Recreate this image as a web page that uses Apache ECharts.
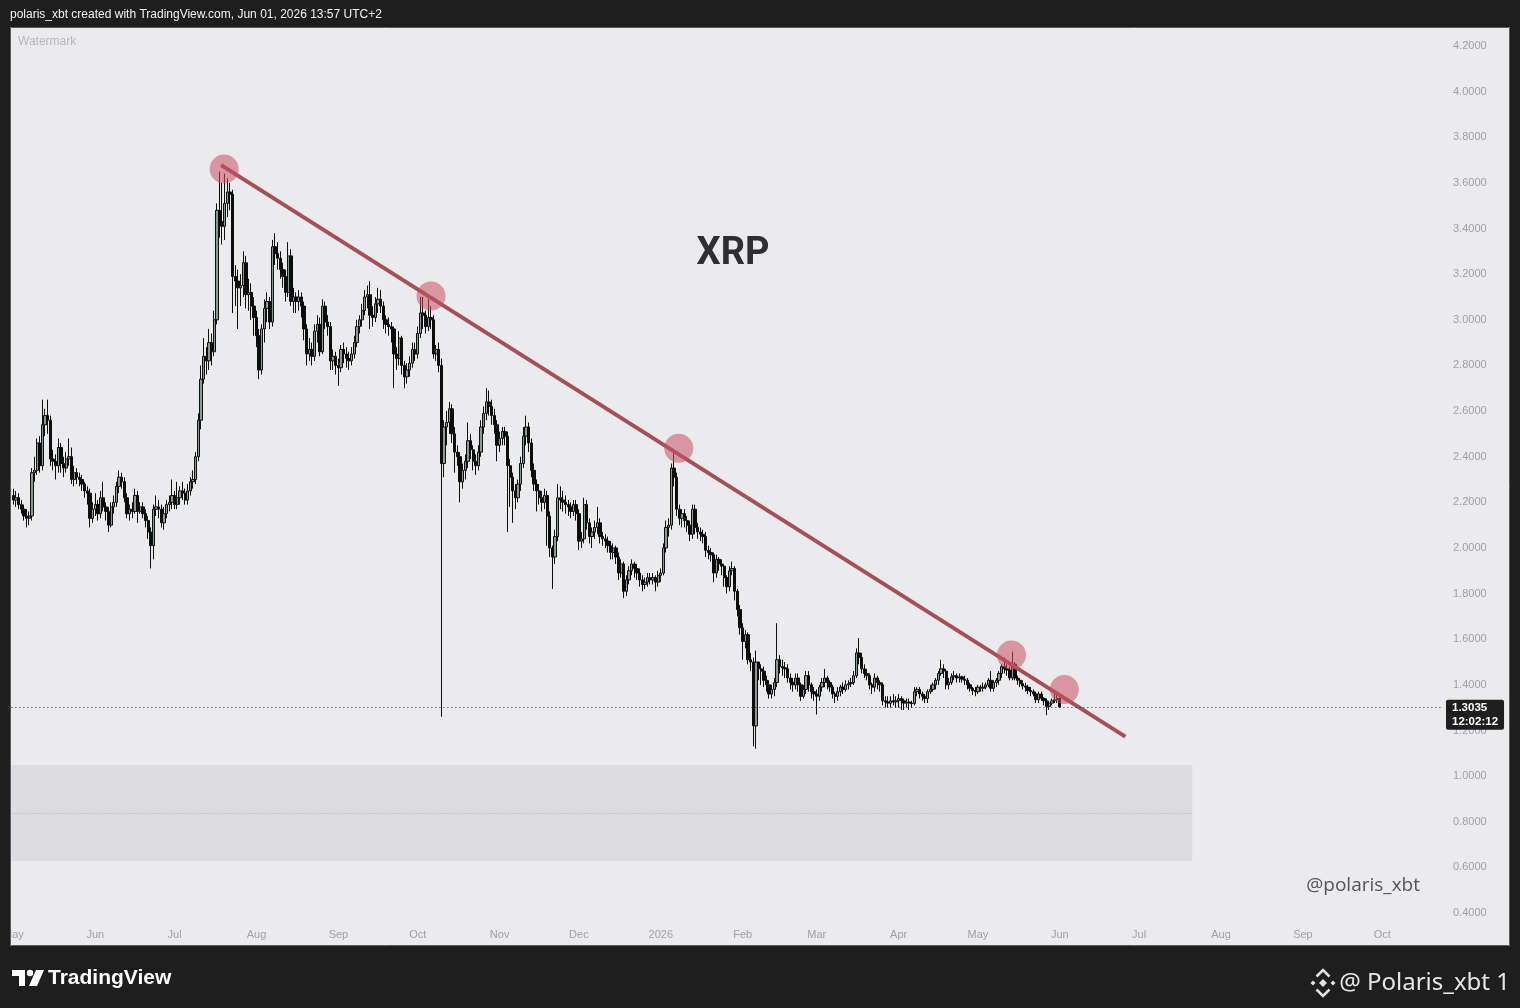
<!DOCTYPE html>
<html><head><meta charset="utf-8">
<script src="https://cdn.jsdelivr.net/npm/echarts@6/dist/echarts.min.js"></script>
<style>html,body{margin:0;padding:0;background:#1e1e1e;}#c{width:1520px;height:1008px;}</style>
</head><body><div id="c"></div>
<script>
// ---- data (daily XRP candles, 2025-05-01 .. 2026-06-01) ----
const firstDay = '2025-05-01T00:00:00Z';
const opens = [
2.23,2.21,2.22,2.19,2.17,2.14,2.13,2.14,2.33,2.34,
2.46,2.36,2.54,2.58,2.56,2.39,2.38,2.36,2.44,2.37,
2.35,2.39,2.40,2.30,2.33,2.31,2.30,2.28,2.25,2.24,
2.13,2.17,2.19,2.15,2.22,2.18,2.16,2.10,2.18,2.20,
2.27,2.31,2.29,2.22,2.15,2.17,2.16,2.23,2.16,2.18,
2.15,2.12,2.07,2.01,2.17,2.18,2.17,2.11,2.15,2.19,
2.20,2.23,2.19,2.22,2.25,2.24,2.21,2.25,2.29,2.30,
2.40,2.56,2.74,2.84,2.82,2.90,2.86,3.00,3.48,3.43,
3.41,3.51,3.56,3.55,3.19,3.17,3.14,3.15,3.25,3.11,
3.12,3.06,3.01,2.93,2.78,2.96,3.05,3.08,2.99,3.32,
3.29,3.27,3.22,3.19,3.12,3.28,3.08,3.10,3.08,3.10,
3.06,2.96,2.85,2.87,2.84,2.95,2.98,2.86,3.06,2.99,
2.97,2.82,2.84,2.80,2.79,2.87,2.85,2.83,2.82,2.85,
2.90,2.97,3.00,3.04,3.10,3.11,3.02,3.01,3.07,3.09,
3.06,3.00,2.98,2.97,2.96,2.85,2.83,2.92,2.80,2.75,
2.78,2.81,2.87,2.85,2.94,3.03,3.02,2.97,3.01,3.00,
2.85,2.87,2.80,2.37,2.53,2.55,2.61,2.50,2.42,2.40,
2.29,2.34,2.38,2.47,2.43,2.38,2.36,2.42,2.53,2.59,
2.64,2.62,2.58,2.54,2.45,2.48,2.51,2.49,2.36,2.31,
2.25,2.22,2.28,2.37,2.49,2.53,2.46,2.34,2.28,2.25,
2.22,2.20,2.23,2.14,2.00,1.96,2.05,2.22,2.21,2.20,
2.19,2.18,2.16,2.19,2.15,2.03,2.04,2.19,2.11,2.05,
2.07,2.09,2.11,2.05,2.04,2.03,2.01,1.98,2.00,1.96,
1.89,1.93,1.81,1.86,1.90,1.93,1.91,1.89,1.86,1.84,
1.85,1.87,1.86,1.87,1.85,1.88,1.89,2.00,2.09,2.10,
2.35,2.31,2.17,2.13,2.15,2.12,2.10,2.06,2.17,2.09,
2.07,2.06,2.05,1.99,1.98,1.97,1.89,1.95,1.93,1.92,
1.87,1.83,1.90,1.91,1.81,1.73,1.65,1.59,1.62,1.51,
1.50,1.22,1.50,1.47,1.46,1.42,1.40,1.36,1.38,1.41,
1.51,1.48,1.475,1.47,1.43,1.41,1.40,1.43,1.40,1.35,
1.38,1.44,1.40,1.37,1.36,1.35,1.39,1.41,1.43,1.41,
1.39,1.36,1.35,1.37,1.39,1.38,1.40,1.405,1.41,1.44,
1.54,1.52,1.47,1.45,1.44,1.40,1.39,1.43,1.41,1.40,
1.33,1.325,1.32,1.33,1.325,1.33,1.34,1.33,1.32,1.325,
1.32,1.318,1.37,1.38,1.36,1.35,1.34,1.37,1.38,1.40,
1.42,1.45,1.47,1.46,1.40,1.41,1.435,1.44,1.43,1.435,
1.425,1.42,1.40,1.385,1.375,1.37,1.39,1.385,1.39,1.40,
1.42,1.385,1.41,1.42,1.45,1.48,1.47,1.465,1.43,1.49,
1.43,1.42,1.405,1.395,1.39,1.375,1.37,1.36,1.335,1.36,
1.34,1.33,1.305,1.32,1.33,1.335,1.34];
const closes = [
2.21,2.22,2.19,2.17,2.14,2.13,2.14,2.33,2.34,2.46,
2.36,2.54,2.58,2.56,2.39,2.38,2.36,2.44,2.37,2.35,
2.39,2.40,2.30,2.33,2.31,2.30,2.28,2.25,2.24,2.13,
2.17,2.19,2.15,2.22,2.18,2.16,2.10,2.18,2.20,2.27,
2.31,2.29,2.22,2.15,2.17,2.16,2.23,2.16,2.18,2.15,
2.12,2.07,2.01,2.17,2.18,2.17,2.11,2.15,2.19,2.20,
2.23,2.19,2.22,2.25,2.24,2.21,2.25,2.29,2.30,2.40,
2.56,2.74,2.84,2.82,2.90,2.86,3.00,3.48,3.43,3.41,
3.51,3.56,3.55,3.19,3.17,3.14,3.15,3.25,3.11,3.12,
3.06,3.01,2.93,2.78,2.96,3.05,3.08,2.99,3.32,3.29,
3.27,3.22,3.19,3.12,3.28,3.08,3.10,3.08,3.10,3.06,
2.96,2.85,2.87,2.84,2.95,2.98,2.86,3.06,2.99,2.97,
2.82,2.84,2.80,2.79,2.87,2.85,2.83,2.82,2.85,2.90,
2.97,3.00,3.04,3.10,3.11,3.02,3.01,3.07,3.09,3.06,
3.00,2.98,2.97,2.96,2.85,2.83,2.92,2.80,2.75,2.78,
2.81,2.87,2.85,2.94,3.03,3.02,2.97,3.01,3.00,2.85,
2.87,2.80,2.37,2.53,2.55,2.61,2.50,2.42,2.40,2.29,
2.34,2.38,2.47,2.43,2.38,2.36,2.42,2.53,2.59,2.64,
2.62,2.58,2.54,2.45,2.48,2.51,2.49,2.36,2.31,2.25,
2.22,2.28,2.37,2.49,2.53,2.46,2.34,2.28,2.25,2.22,
2.20,2.23,2.14,2.00,1.96,2.05,2.22,2.21,2.20,2.19,
2.18,2.16,2.19,2.15,2.03,2.04,2.19,2.11,2.05,2.07,
2.09,2.11,2.05,2.04,2.03,2.01,1.98,2.00,1.96,1.89,
1.93,1.81,1.86,1.90,1.93,1.91,1.89,1.86,1.84,1.85,
1.87,1.86,1.87,1.85,1.88,1.89,2.00,2.09,2.10,2.35,
2.31,2.17,2.13,2.15,2.12,2.10,2.06,2.17,2.09,2.07,
2.06,2.05,1.99,1.98,1.97,1.89,1.95,1.93,1.92,1.87,
1.83,1.90,1.91,1.81,1.73,1.65,1.59,1.62,1.51,1.50,
1.22,1.50,1.47,1.46,1.42,1.40,1.36,1.38,1.41,1.51,
1.48,1.475,1.47,1.43,1.41,1.40,1.43,1.40,1.35,1.38,
1.44,1.40,1.37,1.36,1.35,1.39,1.41,1.43,1.41,1.39,
1.36,1.35,1.37,1.39,1.38,1.40,1.405,1.41,1.44,1.54,
1.52,1.47,1.45,1.44,1.40,1.39,1.43,1.41,1.40,1.33,
1.325,1.32,1.33,1.325,1.33,1.34,1.33,1.32,1.325,1.32,
1.318,1.37,1.38,1.36,1.35,1.34,1.37,1.38,1.40,1.42,
1.45,1.47,1.46,1.40,1.41,1.435,1.44,1.43,1.435,1.425,
1.42,1.40,1.385,1.375,1.37,1.39,1.385,1.39,1.40,1.42,
1.385,1.41,1.42,1.45,1.48,1.47,1.465,1.43,1.49,1.43,
1.42,1.405,1.395,1.39,1.375,1.37,1.36,1.335,1.36,1.34,
1.33,1.305,1.32,1.33,1.335,1.34,1.3035];
const lows = [
2.19,2.18,2.17,2.15,2.12,2.09,2.10,2.12,2.29,2.32,
2.33,2.34,2.49,2.50,2.36,2.34,2.30,2.33,2.33,2.31,
2.33,2.36,2.28,2.27,2.28,2.27,2.25,2.22,2.19,2.09,
2.11,2.14,2.12,2.13,2.16,2.12,2.07,2.09,2.15,2.18,
2.24,2.26,2.20,2.13,2.12,2.13,2.15,2.11,2.15,2.13,
2.09,2.04,1.91,1.95,2.14,2.13,2.09,2.08,2.13,2.16,
2.17,2.17,2.17,2.19,2.21,2.19,2.19,2.23,2.26,2.28,
2.38,2.52,2.72,2.76,2.78,2.80,2.84,2.98,3.36,3.33,
3.35,3.45,3.48,3.03,3.06,2.96,3.06,3.10,3.05,3.04,
3.00,2.93,2.88,2.74,2.76,2.90,2.99,2.96,2.97,3.24,
3.22,3.18,3.14,3.08,3.10,3.06,3.03,3.03,3.04,3.01,
2.91,2.80,2.82,2.80,2.82,2.90,2.84,2.85,2.96,2.93,
2.78,2.78,2.76,2.71,2.77,2.81,2.79,2.78,2.80,2.83,
2.88,2.94,2.97,3.02,3.05,2.96,2.97,2.99,3.03,3.03,
2.96,2.94,2.93,2.90,2.70,2.78,2.80,2.76,2.70,2.72,
2.75,2.79,2.82,2.83,2.92,2.96,2.94,2.95,2.96,2.83,
2.82,2.77,1.26,2.31,2.45,2.50,2.46,2.33,2.36,2.20,
2.26,2.30,2.35,2.39,2.34,2.32,2.34,2.40,2.50,2.56,
2.58,2.54,2.50,2.38,2.42,2.45,2.45,2.07,2.18,2.11,
2.17,2.20,2.25,2.35,2.45,2.42,2.31,2.25,2.16,2.19,
2.16,2.17,2.01,1.96,1.82,1.93,2.03,2.17,2.16,2.15,
2.14,2.13,2.14,2.12,1.99,2.00,2.02,2.08,2.02,2.00,
2.04,2.06,2.02,2.01,2.00,1.98,1.95,1.95,1.93,1.86,
1.87,1.78,1.79,1.84,1.88,1.87,1.86,1.83,1.81,1.82,
1.83,1.84,1.84,1.81,1.83,1.85,1.88,1.98,2.05,2.08,
2.27,2.14,2.10,2.09,2.09,2.07,2.03,2.04,2.06,2.04,
2.03,2.02,1.96,1.95,1.94,1.85,1.87,1.90,1.88,1.83,
1.80,1.81,1.88,1.77,1.70,1.62,1.51,1.56,1.49,1.46,
1.13,1.12,1.42,1.40,1.39,1.37,1.34,1.34,1.35,1.39,
1.45,1.44,1.43,1.41,1.38,1.37,1.38,1.37,1.33,1.34,
1.36,1.37,1.34,1.33,1.27,1.33,1.37,1.39,1.38,1.37,
1.34,1.32,1.33,1.35,1.36,1.37,1.38,1.39,1.40,1.43,
1.49,1.45,1.43,1.42,1.38,1.36,1.37,1.38,1.37,1.31,
1.30,1.30,1.30,1.31,1.30,1.30,1.29,1.29,1.30,1.29,
1.30,1.31,1.35,1.34,1.33,1.32,1.32,1.36,1.37,1.38,
1.40,1.44,1.43,1.38,1.38,1.40,1.42,1.41,1.41,1.41,
1.40,1.38,1.37,1.355,1.35,1.36,1.37,1.37,1.38,1.39,
1.37,1.37,1.39,1.40,1.43,1.45,1.44,1.42,1.42,1.42,
1.40,1.39,1.38,1.37,1.36,1.35,1.35,1.32,1.32,1.33,
1.31,1.267,1.29,1.31,1.32,1.32,1.30];
const highs = [
2.26,2.25,2.24,2.21,2.19,2.17,2.16,2.35,2.40,2.48,
2.49,2.65,2.61,2.65,2.58,2.43,2.41,2.48,2.46,2.40,
2.42,2.48,2.44,2.36,2.35,2.33,2.32,2.29,2.27,2.26,
2.20,2.24,2.21,2.25,2.29,2.20,2.18,2.20,2.23,2.29,
2.34,2.33,2.31,2.24,2.19,2.20,2.26,2.25,2.20,2.20,
2.17,2.14,2.09,2.19,2.23,2.21,2.19,2.18,2.21,2.23,
2.30,2.25,2.29,2.27,2.29,2.26,2.28,2.31,2.34,2.42,
2.59,2.80,2.92,2.88,2.96,2.94,3.04,3.51,3.65,3.60,
3.64,3.62,3.60,3.57,3.24,3.22,3.20,3.30,3.28,3.18,
3.16,3.10,3.04,2.96,2.98,3.09,3.12,3.10,3.35,3.38,
3.34,3.30,3.25,3.22,3.34,3.31,3.14,3.12,3.13,3.12,
3.08,2.98,2.92,2.90,2.98,3.02,3.01,3.09,3.08,3.02,
2.99,2.87,2.86,2.83,2.89,2.90,2.88,2.86,2.88,2.93,
3.00,3.02,3.07,3.13,3.15,3.17,3.06,3.10,3.14,3.13,
3.08,3.02,3.01,2.99,2.97,2.88,2.95,2.93,2.82,2.81,
2.84,2.90,2.90,2.97,3.10,3.10,3.04,3.09,3.06,3.02,
2.89,2.90,2.83,2.56,2.60,2.64,2.63,2.53,2.45,2.42,
2.37,2.41,2.55,2.50,2.45,2.41,2.45,2.56,2.62,2.70,
2.69,2.65,2.61,2.56,2.51,2.53,2.53,2.51,2.39,2.33,
2.28,2.30,2.40,2.53,2.58,2.55,2.48,2.37,2.30,2.28,
2.25,2.26,2.25,2.16,2.01,2.08,2.28,2.27,2.25,2.23,
2.21,2.20,2.21,2.21,2.17,2.07,2.22,2.21,2.13,2.09,
2.12,2.18,2.13,2.07,2.06,2.05,2.03,2.02,2.01,1.98,
1.95,1.94,1.88,1.92,1.95,1.94,1.93,1.91,1.88,1.87,
1.89,1.89,1.89,1.88,1.90,1.91,2.02,2.12,2.13,2.37,
2.42,2.33,2.19,2.17,2.17,2.14,2.12,2.19,2.19,2.11,
2.09,2.08,2.07,2.01,2.00,1.98,1.97,1.96,1.95,1.93,
1.88,1.92,1.94,1.92,1.82,1.75,1.67,1.64,1.63,1.54,
1.52,1.55,1.50,1.49,1.48,1.44,1.42,1.40,1.43,1.67,
1.53,1.51,1.50,1.49,1.45,1.43,1.45,1.45,1.41,1.40,
1.46,1.46,1.41,1.39,1.38,1.40,1.43,1.47,1.44,1.42,
1.40,1.37,1.39,1.40,1.41,1.42,1.42,1.43,1.46,1.56,
1.605,1.54,1.49,1.47,1.45,1.41,1.45,1.44,1.42,1.41,
1.35,1.35,1.35,1.36,1.35,1.36,1.35,1.34,1.34,1.34,
1.33,1.39,1.39,1.39,1.37,1.36,1.38,1.40,1.41,1.43,
1.46,1.51,1.49,1.47,1.43,1.45,1.46,1.45,1.45,1.44,
1.44,1.43,1.41,1.39,1.39,1.40,1.40,1.41,1.41,1.43,
1.46,1.42,1.43,1.46,1.49,1.52,1.49,1.48,1.545,1.50,
1.44,1.43,1.42,1.41,1.40,1.39,1.38,1.37,1.37,1.37,
1.345,1.34,1.33,1.34,1.36,1.36,1.345];
const lastPrice = 1.3035;
const countdown = '12:02:12';
const monthStarts = ['2025-05-01','2025-06-01','2025-07-01','2025-08-01','2025-09-01','2025-10-01','2025-11-01','2025-12-01',
  '2026-01-01','2026-02-01','2026-03-01','2026-04-01','2026-05-01','2026-06-01','2026-07-01','2026-08-01','2026-09-01','2026-10-01'];
const monthNames = ['Jan','Feb','Mar','Apr','May','Jun','Jul','Aug','Sep','Oct','Nov','Dec'];
const timeRange = ['2025-04-30T06:00:00Z','2026-10-23T06:00:00Z'];
const priceRange = [0.4, 4.2];
const priceStep = 0.2;
const trendLine = [['2025-07-18T15:00:00Z',3.678],['2026-06-25T19:00:00Z',1.173]];
const touches = [['2025-07-19T18:00:00Z',3.661],['2025-10-06T01:00:00Z',3.104],['2026-01-07T19:00:00Z',2.437],
  ['2026-05-13T17:00:00Z',1.531],['2026-06-02T17:00:00Z',1.380]];
const zoneFrom = '2025-04-30T06:00:00Z', zoneTo = '2026-07-21T03:00:00Z';
const zoneTop = 1.049, zoneBottom = 0.628, zoneMid = 0.838;

// ---- build ----
const T = s => Date.parse(s.length === 10 ? s + 'T00:00:00Z' : s);
const DAY = 86400000;
const t0 = T(firstDay);
const candleData = closes.map((c, i) => [t0 + i * DAY, opens[i], c, lows[i], highs[i]]);
const font = "'Liberation Sans', Arial, sans-serif";

const chart = echarts.init(document.getElementById('c'), null, {renderer: 'canvas'});
chart.setOption({
  animation: false,
  backgroundColor: '#ebebee',
  textStyle: {fontFamily: font},
  grid: {left: 10, right: 79, top: 46, bottom: 95, containLabel: false, show: false},
  xAxis: {
    type: 'value', min: T(timeRange[0]), max: T(timeRange[1]), scale: true,
    axisLine: {show: false}, axisTick: {show: false}, splitLine: {show: false},
    axisLabel: {
      customValues: monthStarts.map(T),
      color: '#a0a0a6', fontSize: 11, margin: 16, fontFamily: font,
      formatter: v => { const d = new Date(v); const m = d.getUTCMonth(); return m === 0 ? String(d.getUTCFullYear()) : monthNames[m]; }
    }
  },
  yAxis: {
    type: 'value', position: 'right', min: priceRange[0], max: priceRange[1], interval: priceStep,
    axisLine: {show: false}, axisTick: {show: false}, splitLine: {show: false},
    axisLabel: {color: '#a0a0a6', fontSize: 11, margin: 12, fontFamily: font, formatter: v => v.toFixed(4)}
  },
  series: [
    {
      type: 'candlestick', data: candleData, barWidth: 2.8, z: 3,
      encode: {x: 0, y: [1, 2, 3, 4]},
      itemStyle: {color: '#8a9a91', color0: '#0c0c0c', borderColor: '#101010', borderColor0: '#0c0c0c', borderWidth: 1},
      markArea: {
        silent: true, z: 1,
        itemStyle: {color: '#dcdce0'},
        data: [[{coord: [T(zoneFrom), zoneTop]}, {coord: [T(zoneTo), zoneBottom]}]]
      },
      markLine: {
        silent: true, symbol: ['none', 'none'], animation: false,
        data: [
          {yAxis: lastPrice, lineStyle: {type: [1, 3], color: '#2a2a2a', width: 1},
           label: {show: true, position: 'end', distance: 5, offset: [0, 7], formatter: lastPrice.toFixed(4) + '\n' + countdown,
             color: '#ffffff', fontSize: 11.5, fontWeight: 'bold', lineHeight: 14, fontFamily: font,
             backgroundColor: '#1f1f1f', padding: [1, 6, 1, 6], borderRadius: 2}},
          [{coord: [T(zoneFrom), zoneMid], lineStyle: {type: [1, 2], color: '#b4b4ba', width: 1}, label: {show: false}},
           {coord: [T(zoneTo), zoneMid]}]
        ]
      }
    },
    {
      type: 'line', data: trendLine.map(p => [T(p[0]), p[1]]), symbol: 'none', silent: true, z: 4,
      lineStyle: {color: '#a3505a', width: 4}
    },
    {
      type: 'scatter', data: touches.map(p => [T(p[0]), p[1]]), symbolSize: 29, silent: true, z: 5,
      itemStyle: {color: 'rgba(200,78,94,0.68)'}
    }
  ],
  graphic: [
    {type: 'rect', z: 50, silent: true, shape: {x: 0, y: 0, width: 1520, height: 27}, style: {fill: '#1e1e1e'}},
    {type: 'rect', z: 50, silent: true, shape: {x: 0, y: 946, width: 1520, height: 62}, style: {fill: '#1e1e1e'}},
    {type: 'rect', z: 50, silent: true, shape: {x: 0, y: 0, width: 10, height: 1008}, style: {fill: '#1e1e1e'}},
    {type: 'rect', z: 50, silent: true, shape: {x: 1510, y: 0, width: 10, height: 1008}, style: {fill: '#1e1e1e'}},
    {type: 'rect', z: 51, silent: true, shape: {x: 10.5, y: 27.5, width: 1499, height: 918}, style: {fill: null, stroke: '#5c5c5c', lineWidth: 1}},
    {type: 'text', z: 60, x: 10, y: 15, style: {text: 'polaris_xbt created with TradingView.com, Jun 01, 2026 13:57 UTC+2', fill: '#f2f2f2', font: '12px ' + font, textVerticalAlign: 'middle'}},
    {type: 'text', z: 60, x: 18, y: 42, style: {text: 'Watermark', fill: '#b6b6ba', font: '12px ' + font, textVerticalAlign: 'middle'}},
    {type: 'text', z: 60, x: 733, y: 254, style: {text: 'XRP', fill: '#2e2e33', font: 'bold 38px Roboto, sans-serif', textAlign: 'center', textVerticalAlign: 'middle'}},
    {type: 'text', z: 60, x: 1420, y: 886, style: {text: '@polaris_xbt', fill: '#555558', font: '19px "Open Sans", sans-serif', textAlign: 'right', textVerticalAlign: 'middle'}},
    {type: 'polygon', z: 60, shape: {points: [[12,970],[25,970],[25,986],[19,986],[19,976],[12,976]]}, style: {fill: '#ffffff'}},
    {type: 'circle', z: 60, shape: {cx: 30, cy: 973, r: 3.2}, style: {fill: '#ffffff'}},
    {type: 'polygon', z: 60, shape: {points: [[36,970],[44,970],[37,986],[29,986]]}, style: {fill: '#ffffff'}},
    {type: 'text', z: 60, x: 48, y: 978, style: {text: 'TradingView', fill: '#ffffff', font: 'bold 21px ' + font, textVerticalAlign: 'middle'}},
    {type: 'polygon', z: 60, shape: {points: [[1323,979],[1327,983],[1323,987],[1319,983]]}, style: {fill: '#e2e2e2'}},
    {type: 'polygon', z: 60, shape: {points: [[1313,980.5],[1315.5,983],[1313,985.5],[1310.5,983]]}, style: {fill: '#e2e2e2'}},
    {type: 'polygon', z: 60, shape: {points: [[1333,980.5],[1335.5,983],[1333,985.5],[1330.5,983]]}, style: {fill: '#e2e2e2'}},
    {type: 'polyline', z: 60, shape: {points: [[1316.5,976.5],[1323,970],[1329.5,976.5]]}, style: {stroke: '#e2e2e2', lineWidth: 2.6, fill: null}},
    {type: 'polyline', z: 60, shape: {points: [[1316.5,989.5],[1323,996],[1329.5,989.5]]}, style: {stroke: '#e2e2e2', lineWidth: 2.6, fill: null}},
    {type: 'text', z: 60, x: 1510, y: 983, style: {text: '@ Polaris_xbt 1', fill: '#e6e6e6', font: '24px "Noto Sans", sans-serif', textAlign: 'right', textVerticalAlign: 'middle'}}
  ]
});
</script>
</body></html>
